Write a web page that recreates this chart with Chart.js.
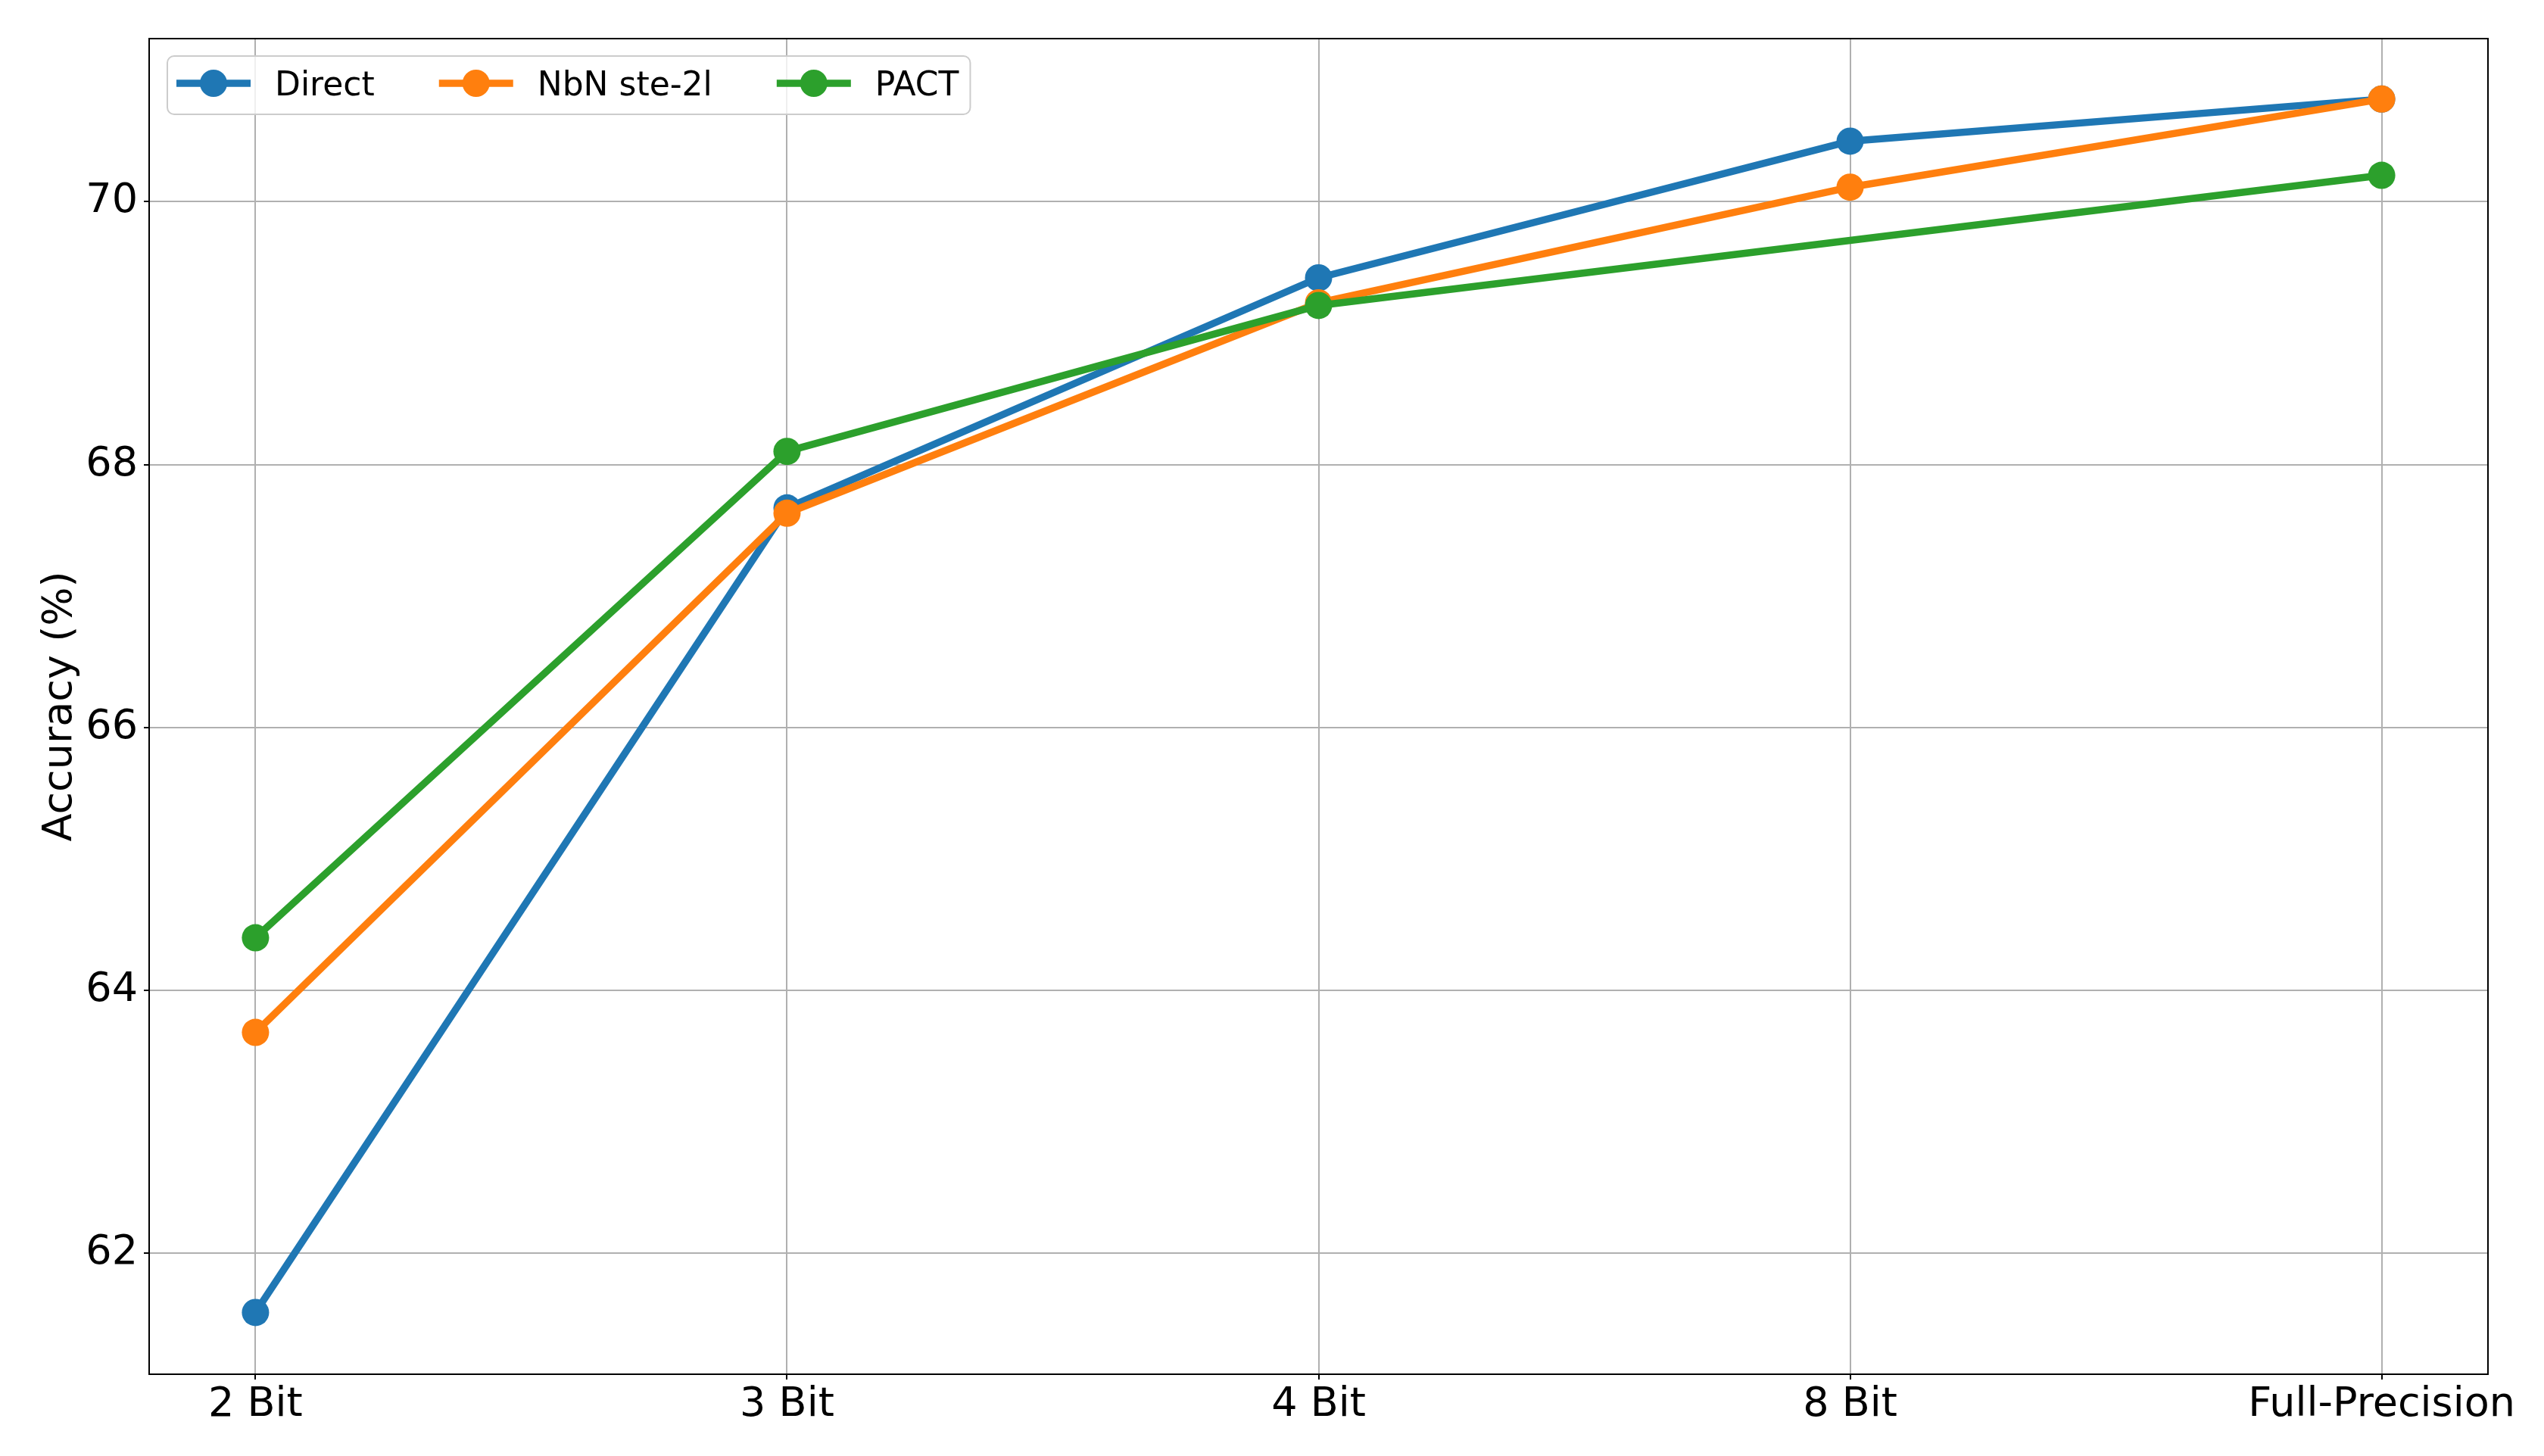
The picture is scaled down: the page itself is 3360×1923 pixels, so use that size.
<!DOCTYPE html>
<html>
<head>
<meta charset="utf-8">
<script src="https://cdn.jsdelivr.net/npm/chart.js@4.4.0/dist/chart.umd.min.js"></script>
<style>
  html, body { margin: 0; padding: 0; background: #fff; }
  canvas { display: block; }
</style>
</head>
<body>
<canvas id="accChart" width="3360" height="1923"></canvas>
<script>
const categories = ["2 Bit", "3 Bit", "4 Bit", "8 Bit", "Full-Precision"];
const directAcc = [61.55, 67.67, 69.42, 70.46, 70.78];
const nbnAcc = [63.68, 67.63, 69.23, 70.11, 70.78];
const pactAcc = [64.40, 68.10, 69.21, null, 70.20];
const yTicks = [62, 64, 66, 68, 70];

const FONT = "'DejaVu Sans', sans-serif";

function toPoints(values) {
  return values.map((v, i) => ({ x: i, y: v })).filter(p => p.y !== null);
}

const series = [
  { label: "Direct", data: directAcc, color: "#1f77b4", order: 3 },
  { label: "NbN ste-2l", data: nbnAcc, color: "#ff7f0e", order: 2 },
  { label: "PACT", data: pactAcc, color: "#2ca02c", order: 1 },
];

// black box round the plot area
const framePlugin = {
  id: "frame",
  afterDatasetsDraw(chart) {
    const { ctx, chartArea: a } = chart;
    ctx.save();
    ctx.strokeStyle = "#000";
    ctx.lineWidth = 2;
    ctx.strokeRect(a.left, a.top, a.right - a.left, a.bottom - a.top);
    ctx.restore();
  },
};

// legend inside the plot, line + marker handles in one row
const legendPlugin = {
  id: "inlineLegend",
  afterDraw(chart) {
    const { ctx, chartArea: a } = chart;
    const boxLeft = a.left + 24, boxTop = a.top + 23, boxH = 77;
    const midY = boxTop + 36;
    const lineLen = 98, textOff = 130, colGap = 85, padL = 12, padR = 15;
    ctx.save();
    ctx.font = "44px " + FONT;
    const sets = chart.data.datasets;
    const widths = sets.map(ds => ctx.measureText(ds.label).width);
    let boxW = padL + padR;
    widths.forEach((w, i) => { boxW += textOff + w + (i < widths.length - 1 ? colGap : 0); });

    ctx.fillStyle = "rgba(255,255,255,0.8)";
    ctx.strokeStyle = "#cccccc";
    ctx.lineWidth = 2;
    ctx.beginPath();
    ctx.roundRect(boxLeft, boxTop, boxW, boxH, 9);
    ctx.fill();
    ctx.stroke();

    let x = boxLeft + padL;
    sets.forEach((ds, i) => {
      ctx.strokeStyle = ds.borderColor;
      ctx.lineWidth = ds.borderWidth;
      ctx.beginPath();
      ctx.moveTo(x, midY);
      ctx.lineTo(x + lineLen, midY);
      ctx.stroke();
      ctx.fillStyle = ds.borderColor;
      ctx.beginPath();
      ctx.arc(x + lineLen / 2, midY, ds.pointRadius, 0, Math.PI * 2);
      ctx.fill();
      ctx.fillStyle = "#000";
      ctx.textAlign = "left";
      ctx.textBaseline = "alphabetic";
      ctx.fillText(ds.label, x + textOff, midY + 16);
      x += textOff + widths[i] + colGap;
    });
    ctx.restore();
  },
};

const tickFont = { family: FONT, size: 54 };

new Chart(document.getElementById("accChart"), {
  type: "line",
  data: {
    datasets: series.map(s => ({
      label: s.label,
      data: toPoints(s.data),
      borderColor: s.color,
      backgroundColor: s.color,
      borderWidth: 9.5,
      borderJoinStyle: "round",
      pointRadius: 18,
      pointHoverRadius: 18,
      pointBorderWidth: 0,
      pointBackgroundColor: s.color,
      spanGaps: true,
      tension: 0,
      order: s.order,
      clip: false,
    })),
  },
  options: {
    responsive: false,
    devicePixelRatio: 1,
    animation: false,
    layout: { padding: { top: 51, right: 74, bottom: 0, left: 0 } },
    plugins: { legend: { display: false }, tooltip: { enabled: false } },
    scales: {
      x: {
        type: "linear",
        min: -0.2,
        max: 4.2,
        afterBuildTicks: s => { s.ticks = categories.map((c, i) => ({ value: i })); },
        afterFit: s => { s.height = 108; },
        ticks: {
          callback: v => categories[v],
          font: tickFont,
          color: "#000",
          padding: 2,
          maxRotation: 0,
          autoSkip: false,
        },
        grid: { color: "#b0b0b0", lineWidth: 2, tickColor: "#000", tickLength: 7, tickWidth: 2 },
        border: { display: false },
      },
      y: {
        min: 61.08,
        max: 71.24,
        afterBuildTicks: s => { s.ticks = yTicks.map(v => ({ value: v })); },
        afterFit: s => { s.width = 197; },
        ticks: { font: tickFont, color: "#000", padding: 8 },
        grid: { color: "#b0b0b0", lineWidth: 2, tickColor: "#000", tickLength: 7, tickWidth: 2 },
        border: { display: false },
        title: {
          display: true,
          text: "Accuracy (%)",
          font: tickFont,
          color: "#000",
          padding: { top: 48, bottom: 0 },
        },
      },
    },
  },
  plugins: [framePlugin, legendPlugin],
});
</script>
</body>
</html>
